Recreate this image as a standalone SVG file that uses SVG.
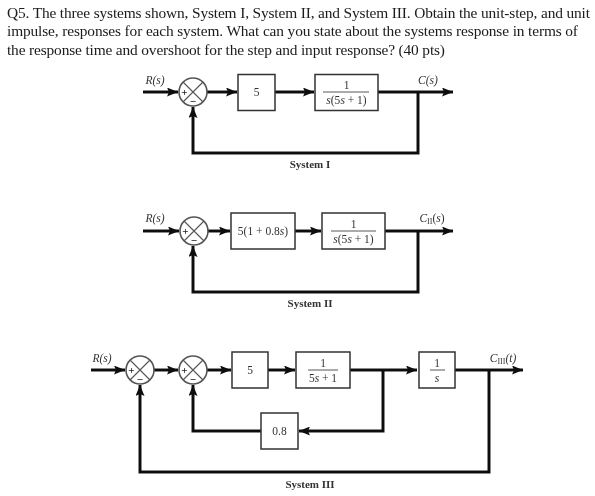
<svg xmlns="http://www.w3.org/2000/svg" width="595" height="496" viewBox="0 0 595 496">
<style>
text{font-family:"Liberation Serif","Times New Roman",serif;fill:#333}
.q{font-size:15.4px;fill:#1a1a1a}
.l{font-size:11.5px;text-anchor:middle}
.i{font-style:italic}
.s{font-size:11px;text-anchor:middle;font-weight:bold;fill:#333}
.b{fill:#fff;stroke:#333;stroke-width:1.5}
.c{fill:#fff;stroke:#555;stroke-width:1.6}
.x{stroke:#555;stroke-width:1.1;fill:none}
.w{fill:none;stroke:#111;stroke-width:3;stroke-linejoin:miter}
.f{stroke:#444;stroke-width:.9}
.sg{font-size:11px;text-anchor:middle;font-weight:bold;fill:#222}
</style>
<defs>
<marker id="a" markerUnits="userSpaceOnUse" markerWidth="11" markerHeight="9" refX="11" refY="4.500" orient="auto"><path d="M0 0L11 4.500L0 9L2 4.500Z" fill="#111"/></marker>
<filter id="soft" x="0" y="0" width="100%" height="100%"><feGaussianBlur stdDeviation="0.35"/></filter>
<g id="sum"><circle class="c" r="14"/><path class="x" d="M-10-10L10 10M-10 10L10-10"/><text class="sg" x="-8.500" y="3.500">+</text><text class="sg" x="0" y="12.500">−</text></g>
</defs>
<g id="diagram" filter="url(#soft)">
<g id="question">
<text class="q" x="7" y="17.500" textLength="583" lengthAdjust="spacing">Q5. The three systems shown, System I, System II, and System III. Obtain the unit-step, and unit</text>
<text class="q" x="7" y="36" textLength="571" lengthAdjust="spacing">impulse, responses for each system. What can you state about the systems response in terms of</text>
<text class="q" x="7" y="55" textLength="438" lengthAdjust="spacing">the response time and overshoot for the step and input response? (40 pts)</text>
</g>
<g id="connectors">
<path class="w" d="M143 92H178" marker-end="url(#a)"/>
<path class="w" d="M207 92H237" marker-end="url(#a)"/>
<path class="w" d="M275 92H314" marker-end="url(#a)"/>
<path class="w" d="M378 92H453" marker-end="url(#a)"/>
<path class="w" d="M418 92V153H193V107" marker-end="url(#a)"/>
<path class="w" d="M143 231H179" marker-end="url(#a)"/>
<path class="w" d="M208 231H230" marker-end="url(#a)"/>
<path class="w" d="M295 231H321" marker-end="url(#a)"/>
<path class="w" d="M385 231H453" marker-end="url(#a)"/>
<path class="w" d="M418 231V292H193V246" marker-end="url(#a)"/>
<path class="w" d="M91 370H125" marker-end="url(#a)"/>
<path class="w" d="M154 370H178" marker-end="url(#a)"/>
<path class="w" d="M207 370H231" marker-end="url(#a)"/>
<path class="w" d="M268 370H295" marker-end="url(#a)"/>
<path class="w" d="M350 370H417" marker-end="url(#a)"/>
<path class="w" d="M455 370H523" marker-end="url(#a)"/>
<path class="w" d="M383 370V431H299" marker-end="url(#a)"/>
<path class="w" d="M261 431H193V385" marker-end="url(#a)"/>
<path class="w" d="M489 370V472H140V385" marker-end="url(#a)"/>
</g>
<g id="sum1"><use href="#sum" x="193" y="92"/></g>
<g id="box1a"><rect class="b" x="238" y="74.500" width="37" height="36"/><text class="l" x="256.500" y="96">5</text></g>
<g id="box1b"><rect class="b" x="315" y="74.500" width="63" height="36"/><text class="l" x="346.500" y="89">1</text><path class="f" d="M323 92H369"/><text class="l" x="346.500" y="104"><tspan class="i">s</tspan>(5<tspan class="i">s</tspan> + 1)</text></g>
<g id="sum2"><use href="#sum" x="194" y="231"/></g>
<g id="box2a"><rect class="b" x="231" y="213" width="64" height="36"/><text class="l" x="263" y="235"><tspan>5(1 + 0.8</tspan><tspan class="i">s</tspan>)</text></g>
<g id="box2b"><rect class="b" x="322" y="213" width="63" height="36"/><text class="l" x="353.500" y="228">1</text><path class="f" d="M331 231H376"/><text class="l" x="353.500" y="243"><tspan class="i">s</tspan>(5<tspan class="i">s</tspan> + 1)</text></g>
<g id="sum3a"><use href="#sum" x="140" y="370"/></g>
<g id="sum3b"><use href="#sum" x="193" y="370"/></g>
<g id="box3a"><rect class="b" x="232" y="352" width="36" height="36"/><text class="l" x="250" y="374">5</text></g>
<g id="box3b"><rect class="b" x="296" y="352" width="54" height="36"/><text class="l" x="323" y="367">1</text><path class="f" d="M308 370H338"/><text class="l" x="323" y="382">5<tspan class="i">s</tspan> + 1</text></g>
<g id="box3c"><rect class="b" x="419" y="352" width="36" height="36"/><text class="l" x="437" y="367">1</text><path class="f" d="M430 370H445"/><text class="l i" x="437" y="382">s</text></g>
<g id="box3d"><rect class="b" x="261" y="413" width="37" height="36"/><text class="l" x="279.500" y="435">0.8</text></g>
<g id="labels">
<text class="l i" x="155" y="84">R(s)</text>
<text class="l i" x="428" y="84">C(s)</text>
<text class="s" x="310" y="168">System I</text>
<text class="l i" x="155" y="222">R(s)</text>
<text class="l" x="432" y="222"><tspan class="i">C</tspan><tspan font-size="8" dy="1.500">II</tspan><tspan dy="-1.500">(</tspan><tspan class="i">s</tspan>)</text>
<text class="s" x="310" y="307">System II</text>
<text class="l i" x="102" y="362">R(s)</text>
<text class="l" x="503" y="362"><tspan class="i">C</tspan><tspan font-size="8" dy="1.500">III</tspan><tspan dy="-1.500" class="i">(t)</tspan></text>
<text class="s" x="310" y="488">System III</text>
</g>
</g>
</svg>
